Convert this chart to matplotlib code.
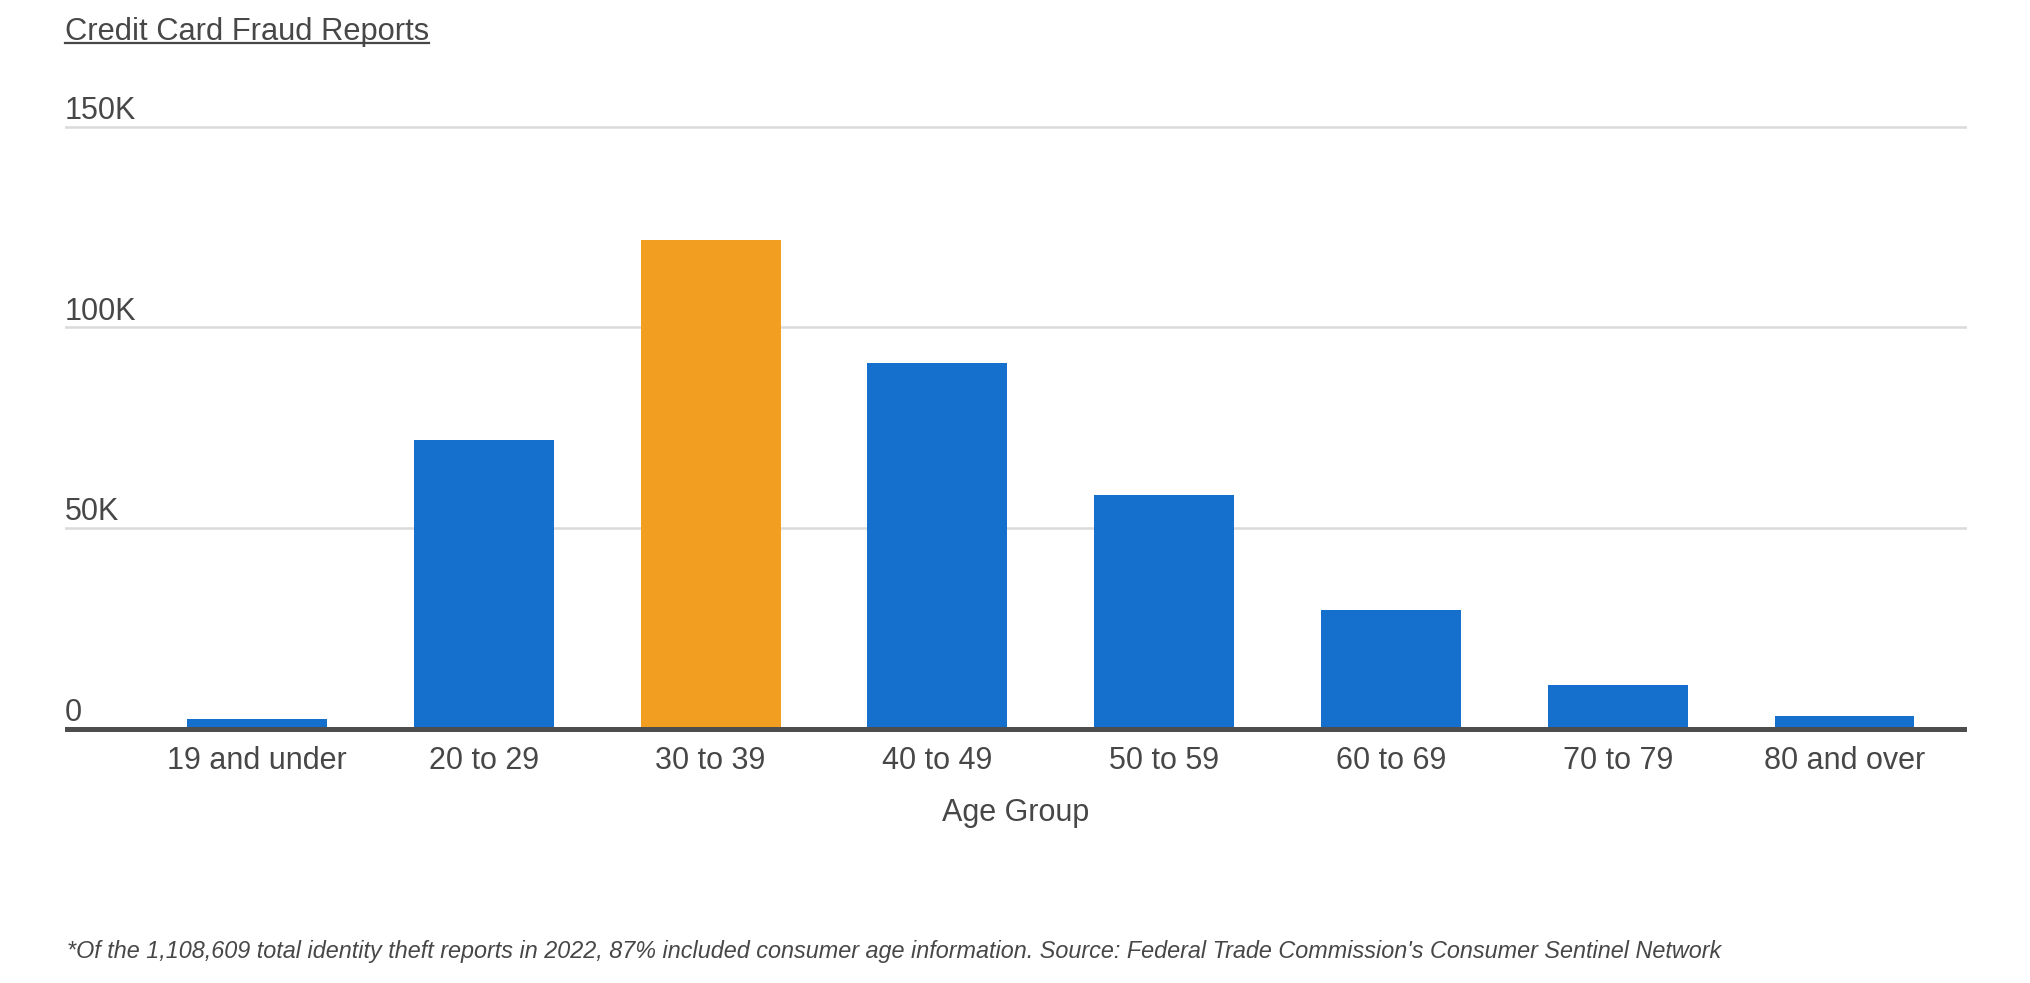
import matplotlib.pyplot as plt
from matplotlib.lines import Line2D
from matplotlib.ticker import FuncFormatter

# credit card fraud reports by age group
age_groups = ["19 and under", "20 to 29", "30 to 39", "40 to 49",
              "50 to 59", "60 to 69", "70 to 79", "80 and over"]
reports = [2400, 72000, 121700, 91000, 58300, 29500, 10800, 3100]
highlight = "30 to 39"
y_ticks = [0, 50000, 100000, 150000]

blue = "#1470cc"
orange = "#f29e21"
text_col = "#474747"

plt.rcParams["font.family"] = ["Liberation Sans", "DejaVu Sans"]

W, H = 2030, 983
fig = plt.figure(figsize=(W / 100, H / 100), dpi=100)

# plot area in pixels: left 64.7, right 1967, top 120, bottom 735
ax = fig.add_axes([64.7 / W, 1 - 735 / H, (1967 - 64.7) / W, (735 - 120) / H])

colors = [orange if g == highlight else blue for g in age_groups]
x = range(len(age_groups))
ax.bar(x, reports, width=0.617, color=colors, zorder=3)

ax.set_xlim(-0.848, 7.54)
ax.set_ylim(-1620, 151700)

# gridlines and thick baseline
for t in y_ticks[1:]:
    ax.axhline(t, color="#dadada", lw=1.8, zorder=1)
ax.axhline(0, color="#4d4d4d", lw=3.6, zorder=4)

for s in ax.spines.values():
    s.set_visible(False)

# y labels sit above their gridline, flush left
ax.set_yticks([])
fmt = FuncFormatter(lambda v, p: "0" if v == 0 else f"{int(v / 1000)}K")
for t in y_ticks:
    ax.annotate(fmt(t), xy=(0, t), xycoords=ax.get_yaxis_transform(),
                xytext=(0, 5.5), textcoords="offset points",
                ha="left", va="baseline", fontsize=22, color=text_col)

ax.set_xticks(list(x))
ax.set_xticklabels(age_groups, fontsize=22, color=text_col)
ax.tick_params(axis="x", length=0, pad=8)

fig.text(1016 / W, 1 - 813 / H, "Age Group", ha="center", va="center",
         fontsize=22, color=text_col)

fig.text(67 / W, 1 - 951.5 / H,
         "*Of the 1,108,609 total identity theft reports in 2022, 87% included "
         "consumer age information. Source: Federal Trade Commission's "
         "Consumer Sentinel Network",
         ha="left", va="center", fontsize=16.8, style="italic", color=text_col)

title = fig.text(64.7 / W, 1 - 40 / H, "Credit Card Fraud Reports",
                 ha="left", va="baseline", fontsize=22.2, color=text_col)

# underline the title
fig.canvas.draw()
bb = title.get_window_extent().transformed(fig.transFigure.inverted())
uy = 1 - 43 / H
fig.add_artist(Line2D([bb.x0, bb.x1], [uy, uy], transform=fig.transFigure,
                      color=text_col, lw=1.6))

fig.savefig("out.png", dpi=100)
